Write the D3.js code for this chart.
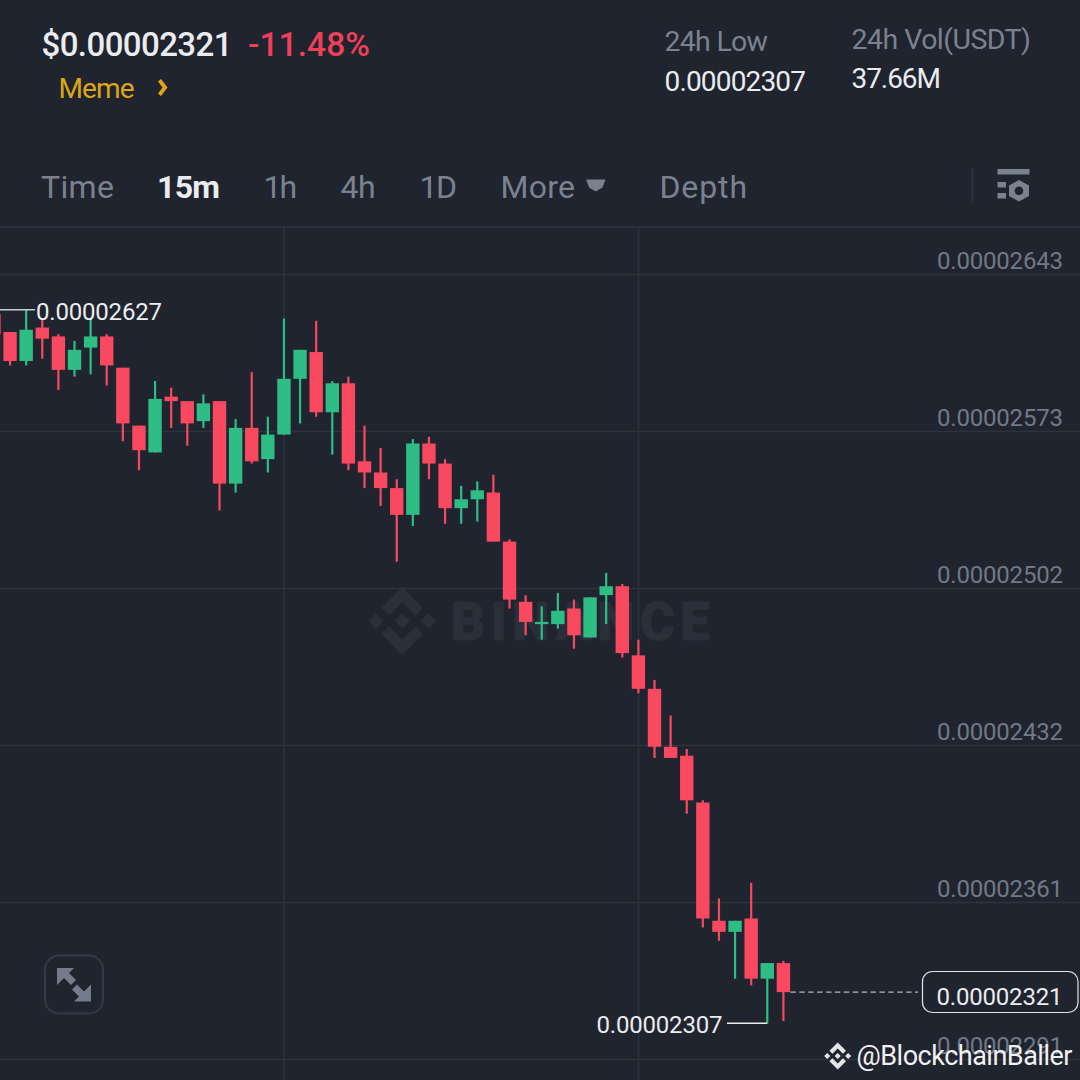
<!DOCTYPE html>
<html>
<head>
<meta charset="utf-8">
<title>15m price chart</title>
<script src="https://cdn.jsdelivr.net/npm/d3@7"></script>
<style>
  html, body { margin: 0; padding: 0; background: #1f242f; }
  svg { display: block; }
  text { font-family: Roboto, "Noto Sans", sans-serif; }
</style>
</head>
<body>
<svg id="chart" width="1080" height="1080"></svg>
<script>
// Candles are quoted in units of 0.00000001 USDT.
const opens  = [2625,2617,2604,2619,2615,2600,2610,2615,2601,2575,2563,2588,2586,2577,2586,2549,2574,2560,2571,2596,2608,2581,2594,2559,2554,2547,2535,2567,2558,2538,2542,2545,2523,2496,2486,2486,2493,2480,2499,2503,2472,2457,2431,2427,2406,2353,2348,2354,2327,2334];
const highs  = [2627,2617,2627,2623,2616,2613,2623,2616,2601,2575,2595,2592,2586,2589,2586,2578,2599,2579,2623,2609,2622,2595,2597,2575,2565,2551,2569,2570,2560,2548,2550,2553,2524,2499,2494,2500,2497,2498,2509,2504,2479,2461,2445,2430,2407,2363,2353,2370,2334,2335];
const lows   = [2604,2602,2602,2605,2591,2597,2598,2593,2568,2555,2563,2574,2566,2574,2537,2545,2558,2554,2571,2576,2579,2562,2555,2547,2539,2514,2530,2551,2531,2531,2532,2523,2493,2481,2479,2484,2475,2480,2486,2471,2455,2426,2426,2401,2350,2344,2327,2324,2307,2308];
const closes = [2616,2604,2618,2614,2600,2609,2615,2602,2576,2564,2587,2586,2576,2585,2549,2574,2559,2571,2596,2609,2581,2594,2558,2554,2547,2535,2567,2558,2538,2542,2546,2523,2497,2487,2487,2492,2481,2498,2503,2473,2457,2431,2426,2407,2354,2348,2353,2327,2334,2321];

const gridPrices = [2643, 2572.6, 2502.2, 2431.8, 2361.4, 2291];
const gridLabels = ["0.00002643","0.00002573","0.00002502","0.00002432","0.00002361","0.00002291"];
const lastPrice = 2321, lastLabel = "0.00002321";
const dayLow = 2307, dayLowLabel = "0.00002307";
const visibleHigh = 2627, visibleHighLabel = "0.00002627";
const intervals = ["Time","15m","1h","4h","1D","More","Depth"];
const intervalStarts = [41,157,263.5,340.5,419.5,500.5,659.5];
const intervalWidths = [73,63,33.5,35,37.5,74.5,87.5];

const C = { bg:"#1f242f", grid:"#2d323d", up:"#2ebd85", down:"#f84960", white:"#eaecef",
            grey:"#7b828f", tick:"#727986", gold:"#dea616", mark:"#2b2f3a" };
const LOGO = "M38.73 53.2l24.59-24.58 24.6 24.6 14.3-14.31L63.32 0 24.42 38.9zM0 63.31l14.3-14.31 14.31 14.31-14.31 14.3zM38.73 73.41l24.59 24.59 24.6-24.6 14.31 14.29-38.9 38.91-38.91-38.88-.02-.02zM98 63.31l14.3-14.31 14.31 14.3-14.31 14.32zM77.83 63.3L63.32 48.78 52.59 59.51l-1.24 1.23-2.54 2.54 14.51 14.5 14.5-14.47z";

const svg = d3.select("#chart");
svg.append("rect").attr("width",1080).attr("height",1080).attr("fill",C.bg);

const x = d3.scaleLinear().domain([0, opens.length - 1]).range([-6.05, 783.4]);
const y = d3.scaleLinear().domain([2643, 2291]).range([274, 1059]);

function label(parent, txt, px, py, size, fill, weight, width, anchor) {
  const t = parent.append("text").attr("x",px).attr("y",py).attr("font-size",size)
    .attr("fill",fill).attr("font-weight",weight || 400).text(txt);
  if (width) t.attr("textLength",width).attr("lengthAdjust","spacing");
  if (anchor) t.attr("text-anchor",anchor);
  return t;
}
function logo(parent, cx, cy, w, fill) {
  const s = w / 126.61;
  parent.append("path").attr("d",LOGO).attr("fill",fill)
    .attr("transform",`translate(${cx - w/2},${cy - w/2}) scale(${s})`);
}

/* ---------- header ---------- */
const head = svg.append("g");
label(head,"$0.00002321",41.5,55.5,33,C.white,500,191);
label(head,"-11.48%",248,55.5,33.5,"#ee4058",500,122);
label(head,"Meme",58.5,98,28,C.gold,400,76);
head.append("path").attr("d","M158 81.5l3-2.5 6.5 8.5-6.5 8.5-3-2.5 4.5-6z").attr("fill",C.gold);
label(head,"24h Low",664.5,50.5,28.5,C.grey,400,103.5);
label(head,dayLowLabel,664.5,91,28,C.white,400,141.5);
label(head,"24h Vol(USDT)",851.5,48.5,28.5,C.grey,400,179.5);
label(head,"37.66M",851.5,88,28,C.white,400,89.5);

/* ---------- interval tabs ---------- */
intervals.forEach((name,i) => {
  const active = name === "15m";
  label(head,name,intervalStarts[i],197.5,32,active ? C.white : C.grey,active ? 700 : 400,intervalWidths[i]);
});
head.append("path").attr("d","M586 179.5h19.5l-3 8-6.7 4-6.7-4z").attr("fill",C.grey);
head.append("rect").attr("x",971.5).attr("y",168).attr("width",2).attr("height",33).attr("fill","#2f3541");
const cog = head.append("g").attr("fill",C.grey);
cog.append("rect").attr("x",997.5).attr("y",169).attr("width",32).attr("height",5.5);
cog.append("rect").attr("x",997.5).attr("y",182).attr("width",8.5).attr("height",5.5);
cog.append("rect").attr("x",997.5).attr("y",193).attr("width",8.5).attr("height",5.5);
cog.append("path").attr("fill-rule","evenodd")
  .attr("d","M1019 180l10 5.5v10.5l-10 5.5-10-5.5v-10.5zM1019 186.5a4.3 4.3 0 1 0 .01 0z");
head.append("rect").attr("x",0).attr("y",226).attr("width",1080).attr("height",2).attr("fill","#292e3a");

/* ---------- grid, drawn by the axis generator with full-width ticks ---------- */
const gridAxis = d3.axisRight(y).tickValues(gridPrices).tickSize(1080)
  .tickFormat((d,i) => gridLabels[i]);
const gridG = svg.append("g").call(gridAxis);
gridG.select(".domain").remove();
gridG.selectAll(".tick line").attr("stroke",C.grid).attr("stroke-width",1.6);
gridG.selectAll(".tick text").remove();
const timeX = [284, 638.5];
svg.append("g").selectAll("line").data(timeX).join("line")
  .attr("x1",d=>d).attr("x2",d=>d).attr("y1",228).attr("y2",1080)
  .attr("stroke",C.grid).attr("stroke-width",1.6);

/* ---------- exchange mark beneath the candles ---------- */
logo(svg,402.3,621,68,C.mark);
label(svg,"BINANCE",451,640,53,C.mark,900,259).attr("stroke",C.mark).attr("stroke-width",1);

/* ---------- right-hand price labels ---------- */
svg.append("g").selectAll("text").data(gridPrices).join("text")
  .attr("x",937).attr("y",d=>y(d)-5.5).attr("font-size",24).attr("fill",C.tick)
  .attr("textLength",126).attr("lengthAdjust","spacing")
  .text((d,i)=>gridLabels[i]);

/* ---------- candles ---------- */
const candles = opens.map((o,i)=>({i,o,h:highs[i],l:lows[i],c:closes[i]}));
const tone = d => d.c >= d.o ? C.up : C.down;
const bodyW = 13.4, wickW = 2.2;
const cg = svg.append("g");
cg.selectAll("rect.wick").data(candles).join("rect").attr("class","wick")
  .attr("x",d=>x(d.i)-wickW/2).attr("width",wickW)
  .attr("y",d=>y(d.h)).attr("height",d=>y(d.l)-y(d.h)).attr("fill",tone);
cg.selectAll("rect.body").data(candles).join("rect").attr("class","body")
  .attr("x",d=>x(d.i)-bodyW/2).attr("width",bodyW)
  .attr("y",d=>y(Math.max(d.o,d.c)))
  .attr("height",d=>Math.max(2,Math.abs(y(d.o)-y(d.c)))).attr("fill",tone);

/* ---------- extreme and last-price annotations ---------- */
svg.append("line").attr("x1",0).attr("x2",35).attr("y1",y(visibleHigh)).attr("y2",y(visibleHigh))
  .attr("stroke","#c9ccd1").attr("stroke-width",1.4);
label(svg,visibleHighLabel,36,320,24,C.white,400,126);
const lowIndex = lows.indexOf(dayLow);
svg.append("line").attr("x1",727).attr("x2",x(lowIndex)).attr("y1",y(dayLow)).attr("y2",y(dayLow))
  .attr("stroke",C.white).attr("stroke-width",1.4);
label(svg,dayLowLabel,596.5,1033,24,C.white,400,126);
svg.append("line").attr("x1",x(opens.length-1)+7).attr("x2",918).attr("y1",y(lastPrice)).attr("y2",y(lastPrice))
  .attr("stroke","#b4b8be").attr("stroke-width",1.3).attr("stroke-dasharray","5.5 3.4");
svg.append("rect").attr("x",922.5).attr("y",971.5).attr("width",155.5).attr("height",41).attr("rx",10)
  .attr("fill",C.bg).attr("stroke","#e2e4e8").attr("stroke-width",1.2);
label(svg,lastLabel,936.5,1005,24,C.white,400,126);

/* ---------- expand button ---------- */
svg.append("rect").attr("x",45).attr("y",955.5).attr("width",58).attr("height",58).attr("rx",14)
  .attr("fill","none").attr("stroke","#343945").attr("stroke-width",2);
svg.append("path").attr("fill","#747c8b")
  .attr("d","M57 968h17l-5 5 7 7-5 5-7-7-7 7zM91 1001.5h-17l5-5-7-7 5-5 7 7 7-7z");

/* ---------- author handle ---------- */
logo(svg,837.7,1056,27,"#e4e5e7");
svg.append("text").attr("x",856.5).attr("y",1065).attr("font-size",27).attr("fill","#f1f1f2")
  .attr("font-family","'Noto Sans'").attr("textLength",216).attr("lengthAdjust","spacing")
  .text("@BlockchainBaller");
</script>
</body>
</html>
